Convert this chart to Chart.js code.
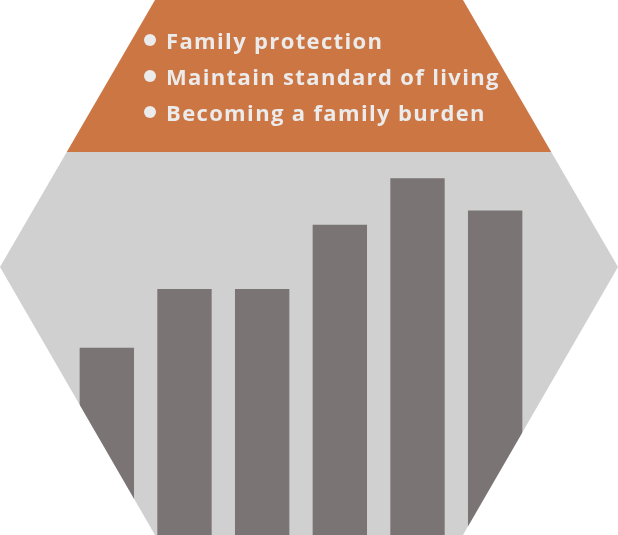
<!DOCTYPE html>
<html>
<head>
<meta charset="utf-8">
<script src="https://cdn.jsdelivr.net/npm/chart.js@4.4.1/dist/chart.umd.min.js"></script>
<style>
    html, body {
        margin: 0;
        padding: 0;
        background: #ffffff;
    }
    #hex {
        position: absolute;
        left: 0;
        top: 0;
        width: 618px;
        height: 535px;
        background: linear-gradient(to bottom, #cc7644 0, #cc7644 152px, #d0d0d0 152px, #d0d0d0 100%);
        clip-path: polygon(155px 0, 463px 0, 618px 267px, 463px 535px, 155px 535px, 0 267px);
    }
    #chart {
        position: absolute;
        left: 0;
        top: 0;
    }
    .points {
        position: absolute;
        left: 166px;
        top: 21.5px;
        margin: 0;
        padding: 0;
        list-style: none;
        font-family: "Open Sans", sans-serif;
        font-weight: 700;
        font-size: 22px;
        letter-spacing: 1.35px;
        line-height: 36px;
        color: #ebebeb;
        white-space: nowrap;
    }
    .points li {
        position: relative;
    }
    .points li::before {
        content: "";
        position: absolute;
        left: -22px;
        top: 12.5px;
        width: 12px;
        height: 12px;
        border-radius: 50%;
        background: #ebebeb;
    }
</style>
</head>
<body>
<div id="hex">
    <canvas id="chart" width="618" height="535"></canvas>
    <ul class="points" id="points"></ul>
</div>

<script>
// Chart data
const categories = ['1', '2', '3', '4', '5', '6'];
const values = [52.5, 69, 69, 87, 100, 91];
const reasons = ['Family protection', 'Maintain standard of living', 'Becoming a family burden'];

// bullet list in the orange cap
const list = document.getElementById('points');
reasons.forEach(text => {
    const li = document.createElement('li');
    li.textContent = text;
    list.appendChild(li);
});

const ctx = document.getElementById('chart').getContext('2d');
new Chart(ctx, {
    type: 'bar',
    data: {
        labels: categories,
        datasets: [{
            data: values,
            backgroundColor: '#7a7574',
            borderWidth: 0,
            barPercentage: 0.7,
            categoryPercentage: 1
        }]
    },
    options: {
        responsive: false,
        animation: false,
        devicePixelRatio: 1,
        layout: {
            padding: { left: 68, right: 84, top: 0, bottom: 0 }
        },
        scales: {
            x: { display: false },
            y: { display: false, min: 0, max: 150 }
        },
        plugins: {
            legend: { display: false },
            tooltip: { enabled: false }
        }
    }
});
</script>
</body>
</html>
